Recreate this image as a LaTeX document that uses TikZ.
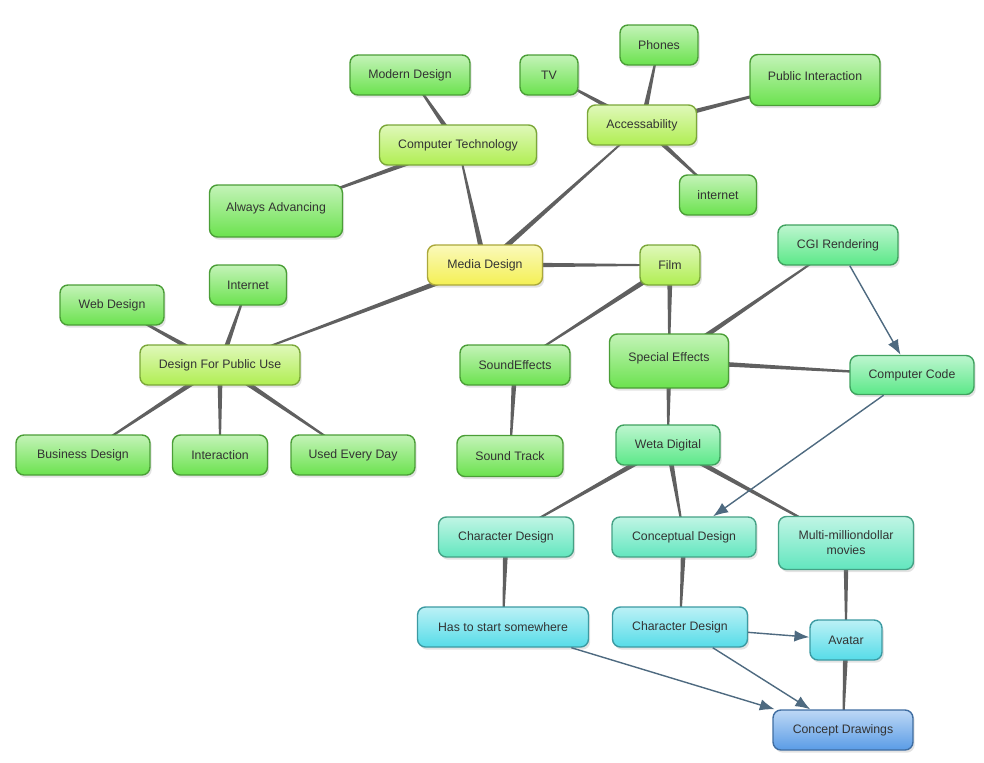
\documentclass[tikz,border=0pt]{standalone}
\usepackage{fontspec}
\setmainfont{Liberation Sans}
\usetikzlibrary{positioning,shadows,backgrounds,arrows.meta,calc}

\definecolor{leafgreen}{HTML}{6BE24E}
\definecolor{hubgreen}{HTML}{B0EE52}
\definecolor{mediayellow}{HTML}{F4F054}
\definecolor{mintgreen}{HTML}{5BE888}
\definecolor{aquabox}{HTML}{62E6BE}
\definecolor{cyanbox}{HTML}{56DCE8}
\definecolor{bluebox}{HTML}{5A9CE6}
\definecolor{linkgray}{HTML}{606060}
\definecolor{arrowblue}{HTML}{4E6A80}

\newcommand\link[2]{\fill[linkgray] ($(#1.center)!1.6pt!90:(#2.center)$) -- ($(#2.center)!0.35pt!-90:(#1.center)$) -- ($(#2.center)!0.35pt!90:(#1.center)$) -- ($(#1.center)!1.6pt!-90:(#2.center)$) -- cycle;}

\begin{document}
\begin{tikzpicture}[x=0.02cm,y=-0.02cm,
      >={Latex[length=8.5pt,width=6.5pt]},
      concept/.style={rounded corners=4.5pt,draw=#1!70!black,line width=0.8pt,
        top color=#1!40!white,bottom color=#1,
        drop shadow={opacity=0.22,shadow xshift=1pt,shadow yshift=-1.5pt},
        font=\fontsize{7}{8.5}\selectfont,text=black!80,inner sep=0pt,
        minimum height=40*0.569pt,align=center},
      wd/.style={minimum width=#1*0.569pt},
      ht/.style={minimum height=#1*0.569pt},
      raised/.style={text depth=5pt},
      arrowline/.style={draw=arrowblue,line width=0.8pt,->} ]
      \useasboundingbox (0,0) rectangle (984,762);
      \node[concept=leafgreen,wd=120] (modern) at (410,75) {Modern Design};
      \node[concept=hubgreen,wd=157] (comptech) at (458,145) {Computer Technology};
      \node[concept=leafgreen,wd=133,ht=52,raised] (always) at (276,211) {Always Advancing};
      \node[concept=leafgreen,wd=58] (tv) at (549,75) {TV};
      \node[concept=leafgreen,wd=78] (phones) at (659,45) {Phones};
      \node[concept=leafgreen,wd=130,ht=51,raised] (pubint) at (815,80) {Public Interaction};
      \node[concept=hubgreen,wd=109] (access) at (642,125) {Accessability};
      \node[concept=leafgreen,wd=77] (inet) at (718,195) {internet};
      \node[concept=mediayellow,wd=115] (media) at (485,265) {Media Design};
      \node[concept=hubgreen,wd=60] (film) at (670,265) {Film};
      \node[concept=mintgreen,wd=120] (cgi) at (838,245) {CGI Rendering};
      \node[concept=leafgreen,wd=104] (web) at (112,305) {Web Design};
      \node[concept=leafgreen,wd=77] (internet) at (248,285) {Internet};
      \node[concept=hubgreen,wd=160] (dpu) at (220,365) {Design For Public Use};
      \node[concept=leafgreen,wd=110] (sfx) at (515,365) {SoundEffects};
      \node[concept=leafgreen,wd=119,ht=54,raised] (spfx) at (669,361) {Special Effects};
      \node[concept=mintgreen,wd=124,ht=39] (ccode) at (912,375) {Computer Code};
      \node[concept=leafgreen,wd=134] (biz) at (83,455) {Business Design};
      \node[concept=leafgreen,wd=95] (interact) at (220,455) {Interaction};
      \node[concept=leafgreen,wd=124] (everyday) at (353,455) {Used Every Day};
      \node[concept=leafgreen,wd=106,ht=41] (track) at (510,456) {Sound Track};
      \node[concept=mintgreen,wd=104] (weta) at (668,445) {Weta Digital};
      \node[concept=aquabox,wd=135] (chardes) at (506,537) {Character Design};
      \node[concept=aquabox,wd=144] (concdes) at (684,537) {Conceptual Design};
      \node[concept=aquabox,wd=135,ht=53] (multi) at (846,543) {Multi-milliondollar\\movies};
      \node[concept=cyanbox,wd=171] (start) at (503,627) {Has to start somewhere};
      \node[concept=cyanbox,wd=135] (chardesb) at (680,627) {Character Design};
      \node[concept=cyanbox,wd=72] (avatar) at (846,640) {Avatar};
      \node[concept=bluebox,wd=140] (drawings) at (843,730) {Concept Drawings};
      \begin{scope}[on background layer]
      \link{media}{comptech}
      \link{media}{access}
      \link{media}{film}
      \link{media}{dpu}
      \link{comptech}{modern}
      \link{comptech}{always}
      \link{access}{tv}
      \link{access}{phones}
      \link{access}{pubint}
      \link{access}{inet}
      \link{dpu}{web}
      \link{dpu}{internet}
      \link{dpu}{biz}
      \link{dpu}{interact}
      \link{dpu}{everyday}
      \link{film}{sfx}
      \link{film}{spfx}
      \link{sfx}{track}
      \link{spfx}{cgi}
      \link{spfx}{ccode}
      \link{spfx}{weta}
      \link{weta}{chardes}
      \link{weta}{concdes}
      \link{weta}{multi}
      \link{chardes}{start}
      \link{concdes}{chardesb}
      \link{multi}{avatar}
      \link{avatar}{drawings}
      \end{scope}
      \draw[arrowline] (cgi) -- (ccode);
      \draw[arrowline] (ccode) -- (concdes);
      \draw[arrowline] (chardesb) -- (avatar);
      \draw[arrowline] (start) -- (drawings);
      \draw[arrowline] (chardesb) -- (drawings);
    \end{tikzpicture}
\end{document}
